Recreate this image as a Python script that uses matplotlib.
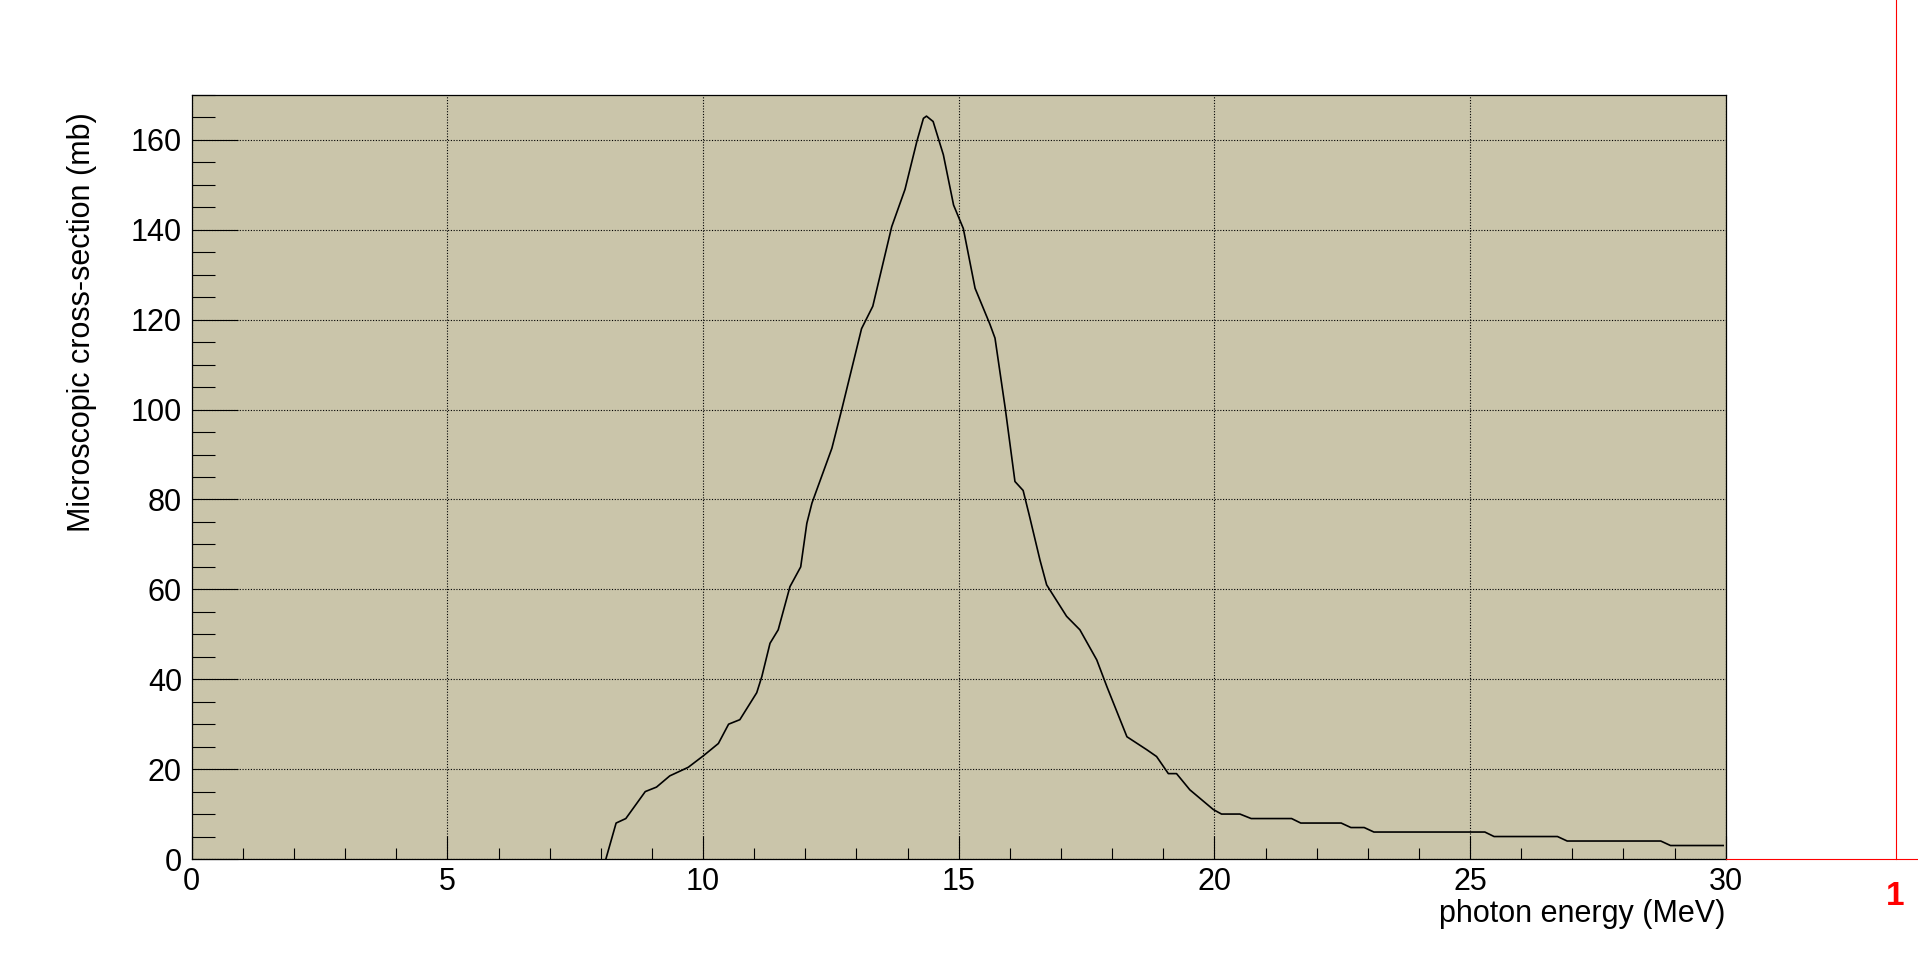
import matplotlib
matplotlib.use("Agg")
import matplotlib.pyplot as plt
from matplotlib.lines import Line2D
from matplotlib.ticker import MultipleLocator

# Data
energy_mev = [8.10, 8.30, 8.49, 8.87, 9.09, 9.35, 9.71, 10.01, 10.30, 10.50,
              10.72, 11.05, 11.15, 11.31, 11.47, 11.70, 11.91, 12.03, 12.13, 12.52,
              12.71, 13.10, 13.32, 13.69, 13.95, 14.18, 14.31, 14.37, 14.50, 14.70,
              14.90, 15.09, 15.32, 15.61, 15.71, 15.91, 16.10, 16.26, 16.38, 16.59,
              16.72, 17.11, 17.37, 17.70, 17.90, 18.29, 18.68, 18.87, 19.10, 19.26,
              19.52, 19.98, 20.14, 20.50, 20.72, 21.51, 21.69, 22.48, 22.67, 22.93,
              23.12, 25.29, 25.47, 26.71, 26.90, 28.73, 28.92, 29.95]
cross_section_mb = [0, 8, 9, 15, 16, 18.5, 20.4, 23, 25.7, 30,
                    31, 37, 40.6, 48, 51, 60.6, 65, 74.7, 79.2, 91.4,
                    99.9, 118, 123, 140.7, 149, 159.6, 164.8, 165.3, 164.1, 156.7,
                    145.5, 140.3, 127, 119, 115.9, 100.3, 84, 82, 76.5, 66.5,
                    61, 54, 51, 44.3, 38.3, 27.2, 24.3, 22.8, 19, 19,
                    15.4, 11, 10, 10, 9, 9, 8, 8, 7, 7,
                    6, 6, 5, 5, 4, 4, 3, 3]

x_label = "photon energy (MeV)"
y_label = "Microscopic cross-section (mb)"
x_range = (0, 30)
y_range = (0, 170)

plt.rcParams['font.family'] = ['Liberation Sans', 'DejaVu Sans']

W, H = 1918, 955
fig = plt.figure(figsize=(W / 100, H / 100), dpi=100)
fig.patch.set_facecolor('white')

ax_left, ax_right, ax_top, ax_bottom = 191.7, 1725.7, 95, 859
ax = fig.add_axes([ax_left / W, 1 - ax_bottom / H,
                   (ax_right - ax_left) / W, (ax_bottom - ax_top) / H])
ax.set_facecolor('#CAC5AA')

ax.plot(energy_mev, cross_section_mb, color='black', lw=1.2)

ax.set_xlim(*x_range)
ax.set_ylim(*y_range)

ax.xaxis.set_major_locator(MultipleLocator(5))
ax.xaxis.set_minor_locator(MultipleLocator(1))
ax.yaxis.set_major_locator(MultipleLocator(20))
ax.yaxis.set_minor_locator(MultipleLocator(5))

ax.grid(True, which='major', color='black', linestyle=(0, (1, 1.5)), lw=0.8)
ax.set_axisbelow(False)

ax.tick_params(axis='both', which='both', direction='in', color='black',
               width=0.8, labelsize=22, top=False, right=False)
ax.tick_params(axis='y', which='major', length=33, pad=7)
ax.tick_params(axis='y', which='minor', length=16.5)
ax.tick_params(axis='x', which='major', length=16.5, pad=6)
ax.tick_params(axis='x', which='minor', length=8)

for s in ax.spines.values():
    s.set_linewidth(0.9)
    s.set_color('black')

fig.text(ax_right / W, 1 - 914 / H, x_label, ha='right', va='center', fontsize=22)
fig.text(82 / W, 1 - 112 / H, y_label, ha='center', va='top', rotation=90, fontsize=22)

# red overlay frame and label
fig.add_artist(Line2D([ax_right / W, 1.0], [1 - ax_bottom / H, 1 - ax_bottom / H],
                      color='red', lw=0.8, transform=fig.transFigure))
fig.add_artist(Line2D([1896 / W, 1896 / W], [1 - ax_bottom / H, 1.0],
                      color='red', lw=0.8, transform=fig.transFigure))
fig.text(1895 / W, 1 - 896 / H, "1", color='red', fontweight='bold',
         ha='center', va='center', fontsize=24)

fig.savefig("out.png", dpi=100)
